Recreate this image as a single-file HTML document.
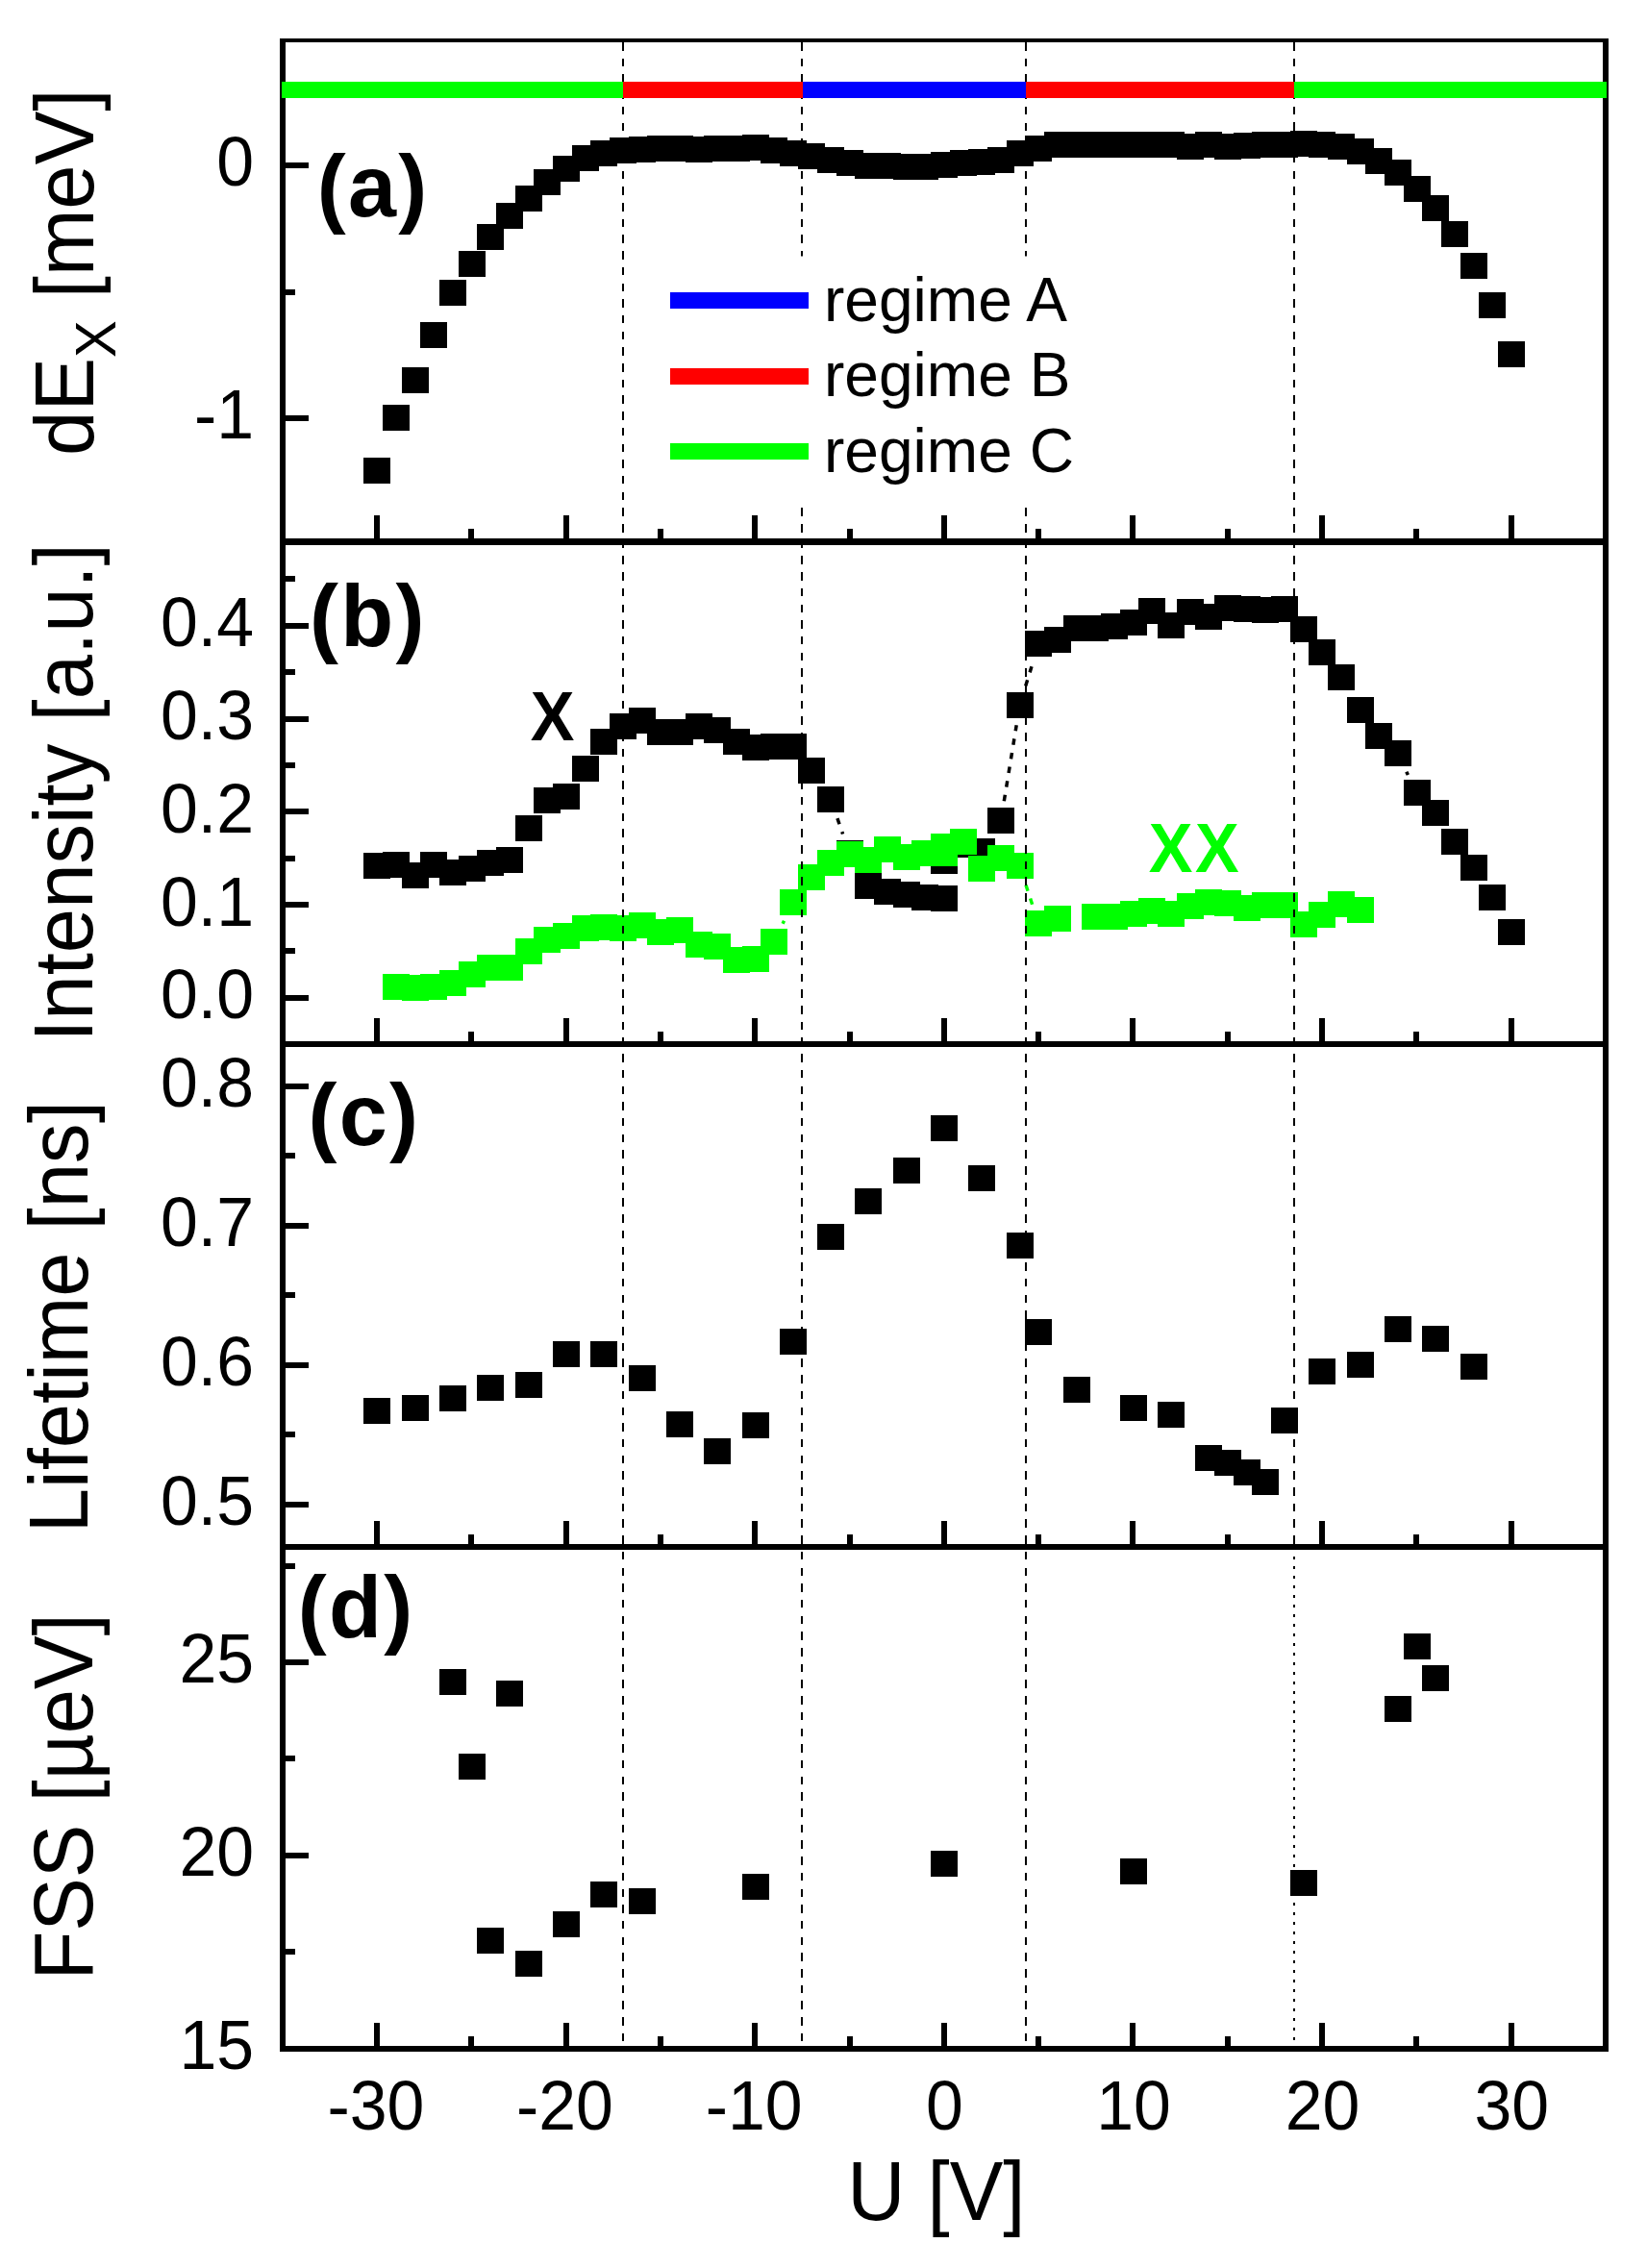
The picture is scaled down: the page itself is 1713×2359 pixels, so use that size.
<!DOCTYPE html>
<html lang="en"><head><meta charset="utf-8"><title>Figure</title>
<style>html,body{margin:0;padding:0;background:#fff}body{width:1713px;height:2359px;overflow:hidden}svg{display:block}text{font-family:"Liberation Sans",sans-serif;fill:#000}</style></head><body>
<svg width="1713" height="2359" viewBox="0 0 1713 2359">
<rect x="0" y="0" width="1713" height="2359" fill="#fff"/>
<g fill="#000" shape-rendering="crispEdges">
<rect x="378" y="476" width="28" height="27"/>
<rect x="398" y="421" width="28" height="27"/>
<rect x="418" y="382" width="28" height="27"/>
<rect x="437" y="335" width="28" height="27"/>
<rect x="457" y="291" width="28" height="27"/>
<rect x="477" y="261" width="28" height="27"/>
<rect x="496" y="233" width="28" height="27"/>
<rect x="516" y="211" width="28" height="27"/>
<rect x="536" y="193" width="28" height="27"/>
<rect x="555" y="176" width="28" height="27"/>
<rect x="575" y="162" width="28" height="27"/>
<rect x="595" y="151" width="28" height="27"/>
<rect x="614" y="146" width="28" height="27"/>
<rect x="634" y="143" width="28" height="27"/>
<rect x="654" y="142" width="28" height="27"/>
<rect x="673" y="141" width="28" height="27"/>
<rect x="693" y="141" width="28" height="27"/>
<rect x="713" y="142" width="28" height="27"/>
<rect x="732" y="141" width="28" height="27"/>
<rect x="752" y="141" width="28" height="27"/>
<rect x="772" y="140" width="28" height="27"/>
<rect x="791" y="143" width="28" height="27"/>
<rect x="811" y="146" width="28" height="27"/>
<rect x="830" y="149" width="28" height="27"/>
<rect x="850" y="153" width="28" height="27"/>
<rect x="870" y="156" width="28" height="27"/>
<rect x="889" y="159" width="28" height="27"/>
<rect x="909" y="159" width="28" height="27"/>
<rect x="929" y="160" width="28" height="27"/>
<rect x="948" y="160" width="28" height="27"/>
<rect x="968" y="158" width="28" height="27"/>
<rect x="988" y="156" width="28" height="27"/>
<rect x="1007" y="155" width="28" height="27"/>
<rect x="1027" y="153" width="28" height="27"/>
<rect x="1047" y="146" width="28" height="27"/>
<rect x="1066" y="141" width="28" height="27"/>
<rect x="1086" y="137" width="28" height="27"/>
<rect x="1106" y="137" width="28" height="27"/>
<rect x="1125" y="137" width="28" height="27"/>
<rect x="1145" y="137" width="28" height="27"/>
<rect x="1165" y="137" width="28" height="27"/>
<rect x="1184" y="137" width="28" height="27"/>
<rect x="1204" y="137" width="28" height="27"/>
<rect x="1224" y="139" width="28" height="27"/>
<rect x="1243" y="137" width="28" height="27"/>
<rect x="1263" y="139" width="28" height="27"/>
<rect x="1283" y="138" width="28" height="27"/>
<rect x="1302" y="137" width="28" height="27"/>
<rect x="1322" y="137" width="28" height="27"/>
<rect x="1342" y="136" width="28" height="27"/>
<rect x="1361" y="137" width="28" height="27"/>
<rect x="1381" y="139" width="28" height="27"/>
<rect x="1401" y="144" width="28" height="27"/>
<rect x="1420" y="154" width="28" height="27"/>
<rect x="1440" y="166" width="28" height="27"/>
<rect x="1460" y="183" width="28" height="27"/>
<rect x="1479" y="203" width="28" height="27"/>
<rect x="1499" y="230" width="28" height="27"/>
<rect x="1519" y="263" width="28" height="27"/>
<rect x="1538" y="304" width="28" height="27"/>
<rect x="1558" y="355" width="28" height="27"/>
</g>
<line x1="870.9" y1="851.1" x2="876.6" y2="867.5" stroke="#000" stroke-width="3.5" stroke-dasharray="6.5 8.3"/>
<line x1="1044.3" y1="833.2" x2="1057.2" y2="754.3" stroke="#000" stroke-width="3.5" stroke-dasharray="6.5 8.3"/>
<line x1="1066.7" y1="713.5" x2="1074.0" y2="689.9" stroke="#000" stroke-width="3.5" stroke-dasharray="6.5 8.3"/>
<line x1="1462.8" y1="802.7" x2="1464.4" y2="806.0" stroke="#000" stroke-width="3.5" stroke-dasharray="6.5 8.3"/>
<g fill="#000" shape-rendering="crispEdges">
<rect x="378" y="887" width="28" height="27"/>
<rect x="398" y="886" width="28" height="27"/>
<rect x="418" y="897" width="28" height="27"/>
<rect x="437" y="886" width="28" height="27"/>
<rect x="457" y="894" width="28" height="27"/>
<rect x="477" y="890" width="28" height="27"/>
<rect x="496" y="884" width="28" height="27"/>
<rect x="516" y="881" width="28" height="27"/>
<rect x="536" y="848" width="28" height="27"/>
<rect x="555" y="819" width="28" height="27"/>
<rect x="575" y="815" width="28" height="27"/>
<rect x="595" y="786" width="28" height="27"/>
<rect x="614" y="758" width="28" height="27"/>
<rect x="634" y="742" width="28" height="27"/>
<rect x="654" y="736" width="28" height="27"/>
<rect x="673" y="748" width="28" height="27"/>
<rect x="693" y="748" width="28" height="27"/>
<rect x="713" y="742" width="28" height="27"/>
<rect x="732" y="746" width="28" height="27"/>
<rect x="752" y="758" width="28" height="27"/>
<rect x="772" y="764" width="28" height="27"/>
<rect x="791" y="763" width="28" height="27"/>
<rect x="811" y="763" width="28" height="27"/>
<rect x="830" y="788" width="28" height="27"/>
<rect x="850" y="818" width="28" height="27"/>
<rect x="870" y="874" width="28" height="27"/>
<rect x="889" y="908" width="28" height="27"/>
<rect x="909" y="914" width="28" height="27"/>
<rect x="929" y="917" width="28" height="27"/>
<rect x="948" y="920" width="28" height="27"/>
<rect x="968" y="921" width="28" height="27"/>
<rect x="968" y="882" width="28" height="27"/>
<rect x="988" y="865" width="28" height="27"/>
<rect x="1007" y="872" width="28" height="27"/>
<rect x="1027" y="840" width="28" height="27"/>
<rect x="1047" y="720" width="28" height="27"/>
<rect x="1066" y="656" width="28" height="27"/>
<rect x="1086" y="652" width="28" height="27"/>
<rect x="1106" y="640" width="28" height="27"/>
<rect x="1125" y="640" width="28" height="27"/>
<rect x="1145" y="638" width="28" height="27"/>
<rect x="1165" y="634" width="28" height="27"/>
<rect x="1184" y="622" width="28" height="27"/>
<rect x="1204" y="637" width="28" height="27"/>
<rect x="1224" y="623" width="28" height="27"/>
<rect x="1243" y="628" width="28" height="27"/>
<rect x="1263" y="619" width="28" height="27"/>
<rect x="1283" y="620" width="28" height="27"/>
<rect x="1302" y="621" width="28" height="27"/>
<rect x="1322" y="620" width="28" height="27"/>
<rect x="1342" y="641" width="28" height="27"/>
<rect x="1361" y="665" width="28" height="27"/>
<rect x="1381" y="691" width="28" height="27"/>
<rect x="1401" y="725" width="28" height="27"/>
<rect x="1420" y="752" width="28" height="27"/>
<rect x="1440" y="770" width="28" height="27"/>
<rect x="1460" y="811" width="28" height="27"/>
<rect x="1479" y="832" width="28" height="27"/>
<rect x="1499" y="862" width="28" height="27"/>
<rect x="1519" y="889" width="28" height="27"/>
<rect x="1538" y="920" width="28" height="27"/>
<rect x="1558" y="956" width="28" height="27"/>
</g>
<line x1="814.1" y1="960.7" x2="815.5" y2="957.8" stroke="#00ff00" stroke-width="3.5" stroke-dasharray="6.5 8.3"/>
<line x1="1067.0" y1="920.5" x2="1073.7" y2="941.0" stroke="#00ff00" stroke-width="3.5" stroke-dasharray="6.5 8.3"/>
<g fill="#00ff00" shape-rendering="crispEdges">
<rect x="398" y="1013" width="28" height="27"/>
<rect x="418" y="1014" width="28" height="27"/>
<rect x="437" y="1013" width="28" height="27"/>
<rect x="457" y="1009" width="28" height="27"/>
<rect x="477" y="1000" width="28" height="27"/>
<rect x="496" y="993" width="28" height="27"/>
<rect x="516" y="993" width="28" height="27"/>
<rect x="536" y="976" width="28" height="27"/>
<rect x="555" y="964" width="28" height="27"/>
<rect x="575" y="960" width="28" height="27"/>
<rect x="595" y="952" width="28" height="27"/>
<rect x="614" y="951" width="28" height="27"/>
<rect x="634" y="952" width="28" height="27"/>
<rect x="654" y="949" width="28" height="27"/>
<rect x="673" y="956" width="28" height="27"/>
<rect x="693" y="954" width="28" height="27"/>
<rect x="713" y="969" width="28" height="27"/>
<rect x="732" y="971" width="28" height="27"/>
<rect x="752" y="985" width="28" height="27"/>
<rect x="772" y="984" width="28" height="27"/>
<rect x="791" y="966" width="28" height="27"/>
<rect x="811" y="925" width="28" height="27"/>
<rect x="830" y="899" width="28" height="27"/>
<rect x="850" y="884" width="28" height="27"/>
<rect x="870" y="875" width="28" height="27"/>
<rect x="889" y="881" width="28" height="27"/>
<rect x="909" y="870" width="28" height="27"/>
<rect x="929" y="878" width="28" height="27"/>
<rect x="948" y="874" width="28" height="27"/>
<rect x="968" y="874" width="28" height="27"/>
<rect x="968" y="867" width="28" height="27"/>
<rect x="988" y="862" width="28" height="27"/>
<rect x="1007" y="890" width="28" height="27"/>
<rect x="1027" y="879" width="28" height="27"/>
<rect x="1047" y="887" width="28" height="27"/>
<rect x="1066" y="947" width="28" height="27"/>
<rect x="1086" y="942" width="28" height="27"/>
<rect x="1125" y="940" width="28" height="27"/>
<rect x="1145" y="940" width="28" height="27"/>
<rect x="1165" y="937" width="28" height="27"/>
<rect x="1184" y="934" width="28" height="27"/>
<rect x="1204" y="937" width="28" height="27"/>
<rect x="1224" y="929" width="28" height="27"/>
<rect x="1243" y="925" width="28" height="27"/>
<rect x="1263" y="926" width="28" height="27"/>
<rect x="1283" y="931" width="28" height="27"/>
<rect x="1302" y="928" width="28" height="27"/>
<rect x="1322" y="928" width="28" height="27"/>
<rect x="1342" y="948" width="28" height="27"/>
<rect x="1361" y="938" width="28" height="27"/>
<rect x="1381" y="927" width="28" height="27"/>
<rect x="1401" y="933" width="28" height="27"/>
</g>
<g fill="#000" shape-rendering="crispEdges">
<rect x="378" y="1454" width="28" height="27"/>
<rect x="418" y="1451" width="28" height="27"/>
<rect x="457" y="1441" width="28" height="27"/>
<rect x="496" y="1430" width="28" height="27"/>
<rect x="536" y="1427" width="28" height="27"/>
<rect x="575" y="1395" width="28" height="27"/>
<rect x="614" y="1395" width="28" height="27"/>
<rect x="654" y="1420" width="28" height="27"/>
<rect x="693" y="1468" width="28" height="27"/>
<rect x="732" y="1496" width="28" height="27"/>
<rect x="772" y="1469" width="28" height="27"/>
<rect x="811" y="1382" width="28" height="27"/>
<rect x="850" y="1273" width="28" height="27"/>
<rect x="889" y="1236" width="28" height="27"/>
<rect x="929" y="1204" width="28" height="27"/>
<rect x="968" y="1160" width="28" height="27"/>
<rect x="1007" y="1212" width="28" height="27"/>
<rect x="1047" y="1282" width="28" height="27"/>
<rect x="1066" y="1372" width="28" height="27"/>
<rect x="1106" y="1432" width="28" height="27"/>
<rect x="1165" y="1451" width="28" height="27"/>
<rect x="1204" y="1458" width="28" height="27"/>
<rect x="1243" y="1503" width="28" height="27"/>
<rect x="1263" y="1508" width="28" height="27"/>
<rect x="1283" y="1518" width="28" height="27"/>
<rect x="1302" y="1528" width="28" height="27"/>
<rect x="1322" y="1464" width="28" height="27"/>
<rect x="1361" y="1413" width="28" height="27"/>
<rect x="1401" y="1406" width="28" height="27"/>
<rect x="1440" y="1369" width="28" height="27"/>
<rect x="1479" y="1379" width="28" height="27"/>
<rect x="1519" y="1408" width="28" height="27"/>
</g>
<g fill="#000" shape-rendering="crispEdges">
<rect x="457" y="1736" width="28" height="27"/>
<rect x="477" y="1824" width="28" height="27"/>
<rect x="496" y="2005" width="28" height="27"/>
<rect x="516" y="1748" width="28" height="27"/>
<rect x="536" y="2029" width="28" height="27"/>
<rect x="575" y="1988" width="28" height="27"/>
<rect x="614" y="1957" width="28" height="27"/>
<rect x="654" y="1964" width="28" height="27"/>
<rect x="772" y="1949" width="28" height="27"/>
<rect x="968" y="1925" width="28" height="27"/>
<rect x="1165" y="1933" width="28" height="27"/>
<rect x="1342" y="1945" width="28" height="27"/>
<rect x="1440" y="1764" width="28" height="27"/>
<rect x="1460" y="1699" width="28" height="27"/>
<rect x="1479" y="1732" width="28" height="27"/>
</g>
<g stroke="#000" stroke-width="2" fill="none" shape-rendering="crispEdges">
<line x1="647.8" y1="44.0" x2="647.8" y2="2131.0" stroke-dasharray="8.5 8.2"/>
<line x1="834.0" y1="44.0" x2="834.0" y2="2131.0" stroke-dasharray="8.5 8.2"/>
<line x1="1067.0" y1="44.0" x2="1067.0" y2="2131.0" stroke-dasharray="8.5 8.2"/>
<line x1="1346.2" y1="44.0" x2="1346.2" y2="1609.0" stroke-dasharray="8.5 8.2"/>
<line x1="1346.2" y1="1609.0" x2="1346.2" y2="2123.0" stroke-dasharray="2.8 7.2"/>
</g>
<rect x="690" y="266.5" width="440" height="255.5" fill="#fff"/>
<g shape-rendering="crispEdges">
<rect x="697" y="304.0" width="144" height="16.8" fill="#0000ff"/>
<rect x="697" y="382.9" width="144" height="16.8" fill="#ff0000"/>
<rect x="697" y="460.9" width="144" height="16.8" fill="#00ff00"/>
</g>
<g fill="#000" shape-rendering="crispEdges">
<rect x="291" y="40" width="1382" height="4"/>
<rect x="291" y="560" width="1382" height="7"/>
<rect x="291" y="1083" width="1382" height="6"/>
<rect x="291" y="1606" width="1382" height="6"/>
<rect x="291" y="2128" width="1382" height="6"/>
<rect x="291" y="40" width="6" height="2094"/>
<rect x="1667" y="40" width="6" height="2094"/>
<rect x="389" y="536" width="6" height="27"/>
<rect x="586" y="536" width="6" height="27"/>
<rect x="782" y="536" width="6" height="27"/>
<rect x="979" y="536" width="6" height="27"/>
<rect x="1175" y="536" width="6" height="27"/>
<rect x="1372" y="536" width="6" height="27"/>
<rect x="1569" y="536" width="6" height="27"/>
<rect x="487" y="550" width="6" height="13"/>
<rect x="684" y="550" width="6" height="13"/>
<rect x="881" y="550" width="6" height="13"/>
<rect x="1077" y="550" width="6" height="13"/>
<rect x="1274" y="550" width="6" height="13"/>
<rect x="1470" y="550" width="6" height="13"/>
<rect x="389" y="1059" width="6" height="27"/>
<rect x="586" y="1059" width="6" height="27"/>
<rect x="782" y="1059" width="6" height="27"/>
<rect x="979" y="1059" width="6" height="27"/>
<rect x="1175" y="1059" width="6" height="27"/>
<rect x="1372" y="1059" width="6" height="27"/>
<rect x="1569" y="1059" width="6" height="27"/>
<rect x="487" y="1073" width="6" height="13"/>
<rect x="684" y="1073" width="6" height="13"/>
<rect x="881" y="1073" width="6" height="13"/>
<rect x="1077" y="1073" width="6" height="13"/>
<rect x="1274" y="1073" width="6" height="13"/>
<rect x="1470" y="1073" width="6" height="13"/>
<rect x="389" y="1582" width="6" height="27"/>
<rect x="586" y="1582" width="6" height="27"/>
<rect x="782" y="1582" width="6" height="27"/>
<rect x="979" y="1582" width="6" height="27"/>
<rect x="1175" y="1582" width="6" height="27"/>
<rect x="1372" y="1582" width="6" height="27"/>
<rect x="1569" y="1582" width="6" height="27"/>
<rect x="487" y="1596" width="6" height="13"/>
<rect x="684" y="1596" width="6" height="13"/>
<rect x="881" y="1596" width="6" height="13"/>
<rect x="1077" y="1596" width="6" height="13"/>
<rect x="1274" y="1596" width="6" height="13"/>
<rect x="1470" y="1596" width="6" height="13"/>
<rect x="389" y="2104" width="6" height="27"/>
<rect x="586" y="2104" width="6" height="27"/>
<rect x="782" y="2104" width="6" height="27"/>
<rect x="979" y="2104" width="6" height="27"/>
<rect x="1175" y="2104" width="6" height="27"/>
<rect x="1372" y="2104" width="6" height="27"/>
<rect x="1569" y="2104" width="6" height="27"/>
<rect x="487" y="2118" width="6" height="13"/>
<rect x="684" y="2118" width="6" height="13"/>
<rect x="881" y="2118" width="6" height="13"/>
<rect x="1077" y="2118" width="6" height="13"/>
<rect x="1274" y="2118" width="6" height="13"/>
<rect x="1470" y="2118" width="6" height="13"/>
<rect x="294" y="169" width="27" height="6"/>
<rect x="294" y="432" width="27" height="6"/>
<rect x="294" y="301" width="13" height="6"/>
<rect x="294" y="1035" width="27" height="6"/>
<rect x="294" y="938" width="27" height="6"/>
<rect x="294" y="841" width="27" height="6"/>
<rect x="294" y="745" width="27" height="6"/>
<rect x="294" y="648" width="27" height="6"/>
<rect x="294" y="986" width="13" height="6"/>
<rect x="294" y="890" width="13" height="6"/>
<rect x="294" y="793" width="13" height="6"/>
<rect x="294" y="696" width="13" height="6"/>
<rect x="294" y="599" width="13" height="6"/>
<rect x="294" y="1562" width="27" height="6"/>
<rect x="294" y="1417" width="27" height="6"/>
<rect x="294" y="1272" width="27" height="6"/>
<rect x="294" y="1127" width="27" height="6"/>
<rect x="294" y="1489" width="13" height="6"/>
<rect x="294" y="1344" width="13" height="6"/>
<rect x="294" y="1199" width="13" height="6"/>
<rect x="294" y="1927" width="27" height="6"/>
<rect x="294" y="1726" width="27" height="6"/>
<rect x="294" y="2027" width="13" height="6"/>
<rect x="294" y="1826" width="13" height="6"/>
<rect x="294" y="1626" width="13" height="6"/>
</g>
<g shape-rendering="crispEdges">
<rect x="293.0" y="85" width="354.8" height="17" fill="#00ff00"/>
<rect x="647.8" y="85" width="187.0" height="17" fill="#ff0000"/>
<rect x="834.8" y="85" width="232.2" height="17" fill="#0000ff"/>
<rect x="1067.0" y="85" width="279.2" height="17" fill="#ff0000"/>
<rect x="1346.2" y="85" width="324.5" height="17" fill="#00ff00"/>
</g>
<text transform="translate(264.0,193.3) scale(1,1.04)" style="font-size:69.8px" text-anchor="end">0</text>
<text transform="translate(264.0,456.3) scale(1,1.04)" style="font-size:69.8px" text-anchor="end">-1</text>
<text transform="translate(264.0,1059.2) scale(1,1.04)" style="font-size:69.8px" text-anchor="end">0.0</text>
<text transform="translate(264.0,962.5) scale(1,1.04)" style="font-size:69.8px" text-anchor="end">0.1</text>
<text transform="translate(264.0,865.8) scale(1,1.04)" style="font-size:69.8px" text-anchor="end">0.2</text>
<text transform="translate(264.0,769.1) scale(1,1.04)" style="font-size:69.8px" text-anchor="end">0.3</text>
<text transform="translate(264.0,672.4) scale(1,1.04)" style="font-size:69.8px" text-anchor="end">0.4</text>
<text transform="translate(264.0,1586.1) scale(1,1.04)" style="font-size:69.8px" text-anchor="end">0.5</text>
<text transform="translate(264.0,1441.1) scale(1,1.04)" style="font-size:69.8px" text-anchor="end">0.6</text>
<text transform="translate(264.0,1296.1) scale(1,1.04)" style="font-size:69.8px" text-anchor="end">0.7</text>
<text transform="translate(264.0,1151.1) scale(1,1.04)" style="font-size:69.8px" text-anchor="end">0.8</text>
<text transform="translate(264.0,1951.3) scale(1,1.04)" style="font-size:69.8px" text-anchor="end">20</text>
<text transform="translate(264.0,1750.1) scale(1,1.04)" style="font-size:69.8px" text-anchor="end">25</text>
<text transform="translate(264.0,2152.0) scale(1,1.04)" style="font-size:69.8px" text-anchor="end">15</text>
<text transform="translate(390.9,2215.0) scale(1,1.04)" style="font-size:69.8px" text-anchor="middle">-30</text>
<text transform="translate(587.5,2215.0) scale(1,1.04)" style="font-size:69.8px" text-anchor="middle">-20</text>
<text transform="translate(784.1,2215.0) scale(1,1.04)" style="font-size:69.8px" text-anchor="middle">-10</text>
<text transform="translate(982.4,2215.0) scale(1,1.04)" style="font-size:69.8px" text-anchor="middle">0</text>
<text transform="translate(1179.0,2215.0) scale(1,1.04)" style="font-size:69.8px" text-anchor="middle">10</text>
<text transform="translate(1375.6,2215.0) scale(1,1.04)" style="font-size:69.8px" text-anchor="middle">20</text>
<text transform="translate(1572.2,2215.0) scale(1,1.04)" style="font-size:69.8px" text-anchor="middle">30</text>
<text transform="translate(973.8,2309.2) scale(1,1.05)" style="font-size:83.3px" text-anchor="middle">U [V]</text>
<text transform="translate(96.5,473.9) rotate(-90) scale(1,1.035)" style="font-size:83.3px">dE<tspan style="font-size:58px" dy="23">X</tspan><tspan dy="-23"> [meV]</tspan></text>
<text transform="translate(95.9,1083.8) rotate(-90) scale(1,1.035)" style="font-size:83.3px">Intensity [a.u.]</text>
<text transform="translate(90.8,1594.2) rotate(-90) scale(1,1.035)" style="font-size:83.3px">Lifetime [ns]</text>
<text transform="translate(95.9,2059.6) rotate(-90) scale(1,1.035)" style="font-size:83.3px">FSS [µeV]</text>
<text transform="translate(857.0,333.8) scale(1,1.025)" style="font-size:64.1px">regime A</text>
<text transform="translate(857.0,412.4) scale(1,1.025)" style="font-size:64.1px">regime B</text>
<text transform="translate(857.0,490.7) scale(1,1.025)" style="font-size:64.1px">regime C</text>
<text transform="translate(329.7,225.4)" style="font-size:90px;font-weight:bold;letter-spacing:2.3px">(a)</text>
<text transform="translate(322.0,671.9)" style="font-size:90px;font-weight:bold;letter-spacing:2.3px">(b)</text>
<text transform="translate(320.5,1191.0)" style="font-size:90px;font-weight:bold;letter-spacing:2.3px">(c)</text>
<text transform="translate(309.7,1702.7)" style="font-size:90px;font-weight:bold;letter-spacing:2.3px">(d)</text>
<text transform="translate(551.7,769.8) scale(1,1.045)" style="font-size:68.5px;font-weight:bold">X</text>
<text transform="translate(1194.8,906.6) scale(1,1.045)" style="font-size:68.5px;font-weight:bold;fill:#00ff00;letter-spacing:2.5px">XX</text>
</svg></body></html>
